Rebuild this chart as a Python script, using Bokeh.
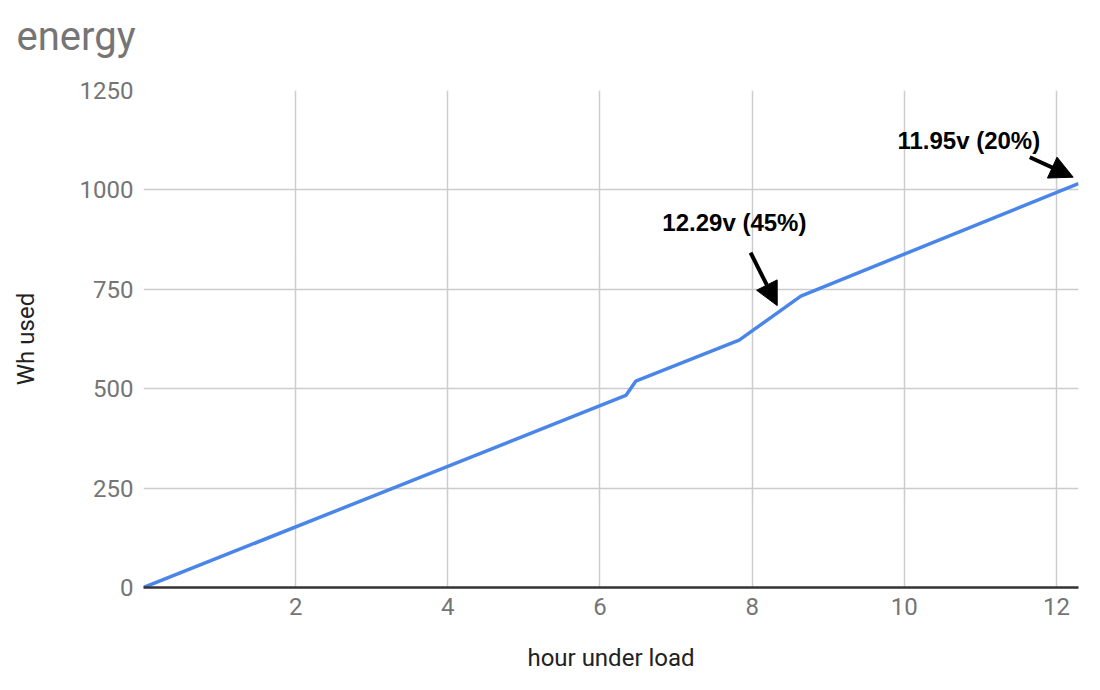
from bokeh.plotting import figure
from bokeh.models import Range1d, FixedTicker, Arrow, NormalHead, ColumnDataSource, Title
from bokeh.core.properties import value
from bokeh.embed import file_html
from bokeh.resources import INLINE

# energy used over time under load
hours = [0, 6.34, 6.47, 7.83, 8.64, 12.29]
wh_used = [0, 483, 519, 622, 733, 1016]

x_ticks = [2, 4, 6, 8, 10, 12]
y_ticks = [0, 250, 500, 750, 1000, 1250]

# callouts: text, text position, arrow tail and head (data units)
note_text = ["12.29v (45%)", "11.95v (20%)"]
note_x = [6.82, 9.91]
note_y = [918, 1124]
arrow_x0 = [7.98, 11.65]
arrow_y0 = [842, 1082]
arrow_x1 = [8.33, 12.22]
arrow_y1 = [709, 1032]

p = figure(width=1084, height=674, output_backend="svg", toolbar_location=None,
           x_range=Range1d(0, hours[-1]), y_range=Range1d(0, 1250),
           x_axis_label="hour under load", y_axis_label="Wh used",
           min_border_left=143, min_border_right=6, min_border_top=90, min_border_bottom=87)

# gap between the title and the plot area, then the title itself
p.add_layout(Title(text=" ", text_font_size="1px", standoff=28), "above")
p.add_layout(Title(text="energy", text_font="Roboto", text_font_size="40px",
                   text_font_style="normal", text_color="#757575",
                   align="left", offset=-127, standoff=0), "above")

p.outline_line_color = None
p.background_fill_color = "white"
p.border_fill_color = "white"

p.xaxis.ticker = FixedTicker(ticks=x_ticks)
p.yaxis.ticker = FixedTicker(ticks=y_ticks)
for ax in (p.xaxis, p.yaxis):
    ax.major_tick_line_color = None
    ax.minor_tick_line_color = None
    ax.major_label_text_font = "Roboto"
    ax.major_label_text_font_size = "24px"
    ax.major_label_text_color = "#757575"
    ax.axis_label_text_font = "Roboto"
    ax.axis_label_text_font_size = "24px"
    ax.axis_label_text_font_style = "normal"
    ax.axis_label_text_color = "#222222"
p.yaxis.axis_line_color = None
p.xaxis.axis_line_color = "#333333"
p.xaxis.axis_line_width = 2.5
p.xaxis.major_label_standoff = 4
p.xaxis.axis_label_standoff = 26
p.yaxis.major_label_standoff = 4
p.yaxis.axis_label_standoff = 37

p.xgrid.grid_line_color = "#cccccc"
p.ygrid.grid_line_color = "#cccccc"
p.xgrid.grid_line_width = 1.5
p.ygrid.grid_line_width = 1.5

p.line(hours, wh_used, line_color="#4a86e8", line_width=3.5)

arrows = ColumnDataSource(dict(x0=arrow_x0, y0=arrow_y0, x1=arrow_x1, y1=arrow_y1))
p.add_layout(Arrow(end=NormalHead(size=23, fill_color="black", line_color="black"),
                   x_start="x0", y_start="y0", x_end="x1", y_end="y1",
                   line_width=4, line_color="black", source=arrows))

p.text(note_x, note_y, text=note_text, text_font=value("Liberation Sans"),
       text_font_size="24px", text_font_style="bold", text_color="black",
       text_align="left", text_baseline="middle")

open("out.html", "w").write(file_html(p, INLINE))
